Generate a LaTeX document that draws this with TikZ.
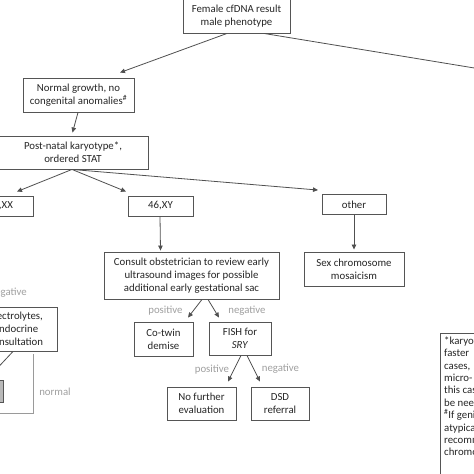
\documentclass[tikz,border=0pt]{standalone}
\usepackage{fontspec}
\setmainfont{Carlito}
\usetikzlibrary{arrows.meta,calc}
\definecolor{boxc}{HTML}{555555}
\definecolor{linec}{HTML}{505050}
\definecolor{txtc}{HTML}{262626}
\definecolor{labc}{HTML}{A0A0A0}
\definecolor{grayl}{HTML}{9A9A9A}
\tikzset{
  bx/.style={draw=boxc, line width=0.9pt, fill=white, text=txtc, align=center, inner sep=0pt,
     font=\fontsize{10.8}{13}\selectfont},
  conn/.style={draw=linec, line width=0.8pt, -{Triangle[width=4.5pt,length=5pt]}},
  plain/.style={draw=linec, line width=0.8pt},
  glin/.style={draw=grayl, line width=0.9pt},
  lab/.style={text=labc, inner sep=0pt, font=\fontsize{10.8}{13}\selectfont},
}
\begin{document}
\begin{tikzpicture}[x=1pt,y=-1pt]
\useasboundingbox (0,0) rectangle (474,474);
\clip (0,0) rectangle (474,474);
\fill[white] (0,0) rectangle (474,474);

% nodes
\node[bx, minimum width=107pt, minimum height=34pt] (top) at (236.5,16) {Female cfDNA result\\male phenotype};
\node[bx, minimum width=111pt, minimum height=34pt] (normal) at (78.5,95) {Normal growth, no\\congenital anomalies\textsuperscript{\#}};
\node[bx, minimum width=150pt, minimum height=33pt] (post) at (73,152.5) {Post-natal karyotype*,\\ordered STAT};
\node[bx, minimum width=65pt, minimum height=20pt] (xx) at (0.5,206) {46,XX};
\node[bx, minimum width=65pt, minimum height=20pt] (xy) at (160.5,206) {46,XY};
\node[bx, minimum width=64pt, minimum height=20pt] (other) at (354,204.5) {other};
\node[bx, minimum width=100pt, minimum height=34pt] (sex) at (354,269) {Sex chromosome\\mosaicism};
\node[bx, minimum width=175pt, minimum height=47pt] (consult) at (191.5,275.5) {Consult obstetrician to review early\\ultrasound images for possible\\additional early gestational sac};
\node[bx, minimum width=59pt, minimum height=34pt] (cotwin) at (163.5,339) {Co-twin\\demise};
\node[bx, minimum width=62pt, minimum height=33pt] (fish) at (240,338.5) {FISH for\\\textit{SRY}};
\node[bx, minimum width=69pt, minimum height=33pt] (nofurther) at (201.5,403.5) {No further\\evaluation};
\node[bx, minimum width=58pt, minimum height=33pt] (dsd) at (280,403.5) {DSD\\referral};
\node[bx, minimum width=82pt, minimum height=44pt] (elec) at (16,329) {Electrolytes,\\endocrine\\consultation};
\node[draw=boxc, fill=gray!55, line width=0.9pt, minimum width=23pt, minimum height=22pt, inner sep=0pt] (gbox) at (-8.5,391) {};
\node[draw=boxc, line width=0.9pt, fill=white, minimum width=90pt, minimum height=160pt, inner sep=0pt] (foot) at (485,413) {};
\node[anchor=north west, inner sep=0pt, text=txtc, align=left, font=\fontsize{10.8}{12.4}\selectfont] (foottext) at (444,336.5)
 {*karyotype\\faster\\cases,\\micro-\\this case\\be needed\\\textsuperscript{\#}If genitalia\\atypical\\recommend\\chromosome};

% free ends
\coordinate (offr) at (520,75.5);
\coordinate (offel) at (-10,376);
\coordinate (offn) at (-5,413);

% connectors
\draw[conn] ([xshift=-9.5pt]top.south) -- ([xshift=41.5pt,yshift=5pt]normal.north);
\draw[plain] ([xshift=27.5pt]top.south) -- (offr);
\draw[conn] ([xshift=-0.5pt]normal.south) -- ([xshift=-0.5pt,yshift=3pt]post.north);
\draw[conn] ([xshift=-1pt]post.south) -- ([xshift=16.5pt,yshift=4pt]xx.north);
\draw[conn] ([xshift=-1pt]post.south) -- ([xshift=-34.5pt,yshift=4pt]xy.north);
\draw[conn] ([xshift=-1pt]post.south) -- ([xshift=-36pt,yshift=4pt]other.north);
\draw[conn] ([xshift=-0.5pt]xy.south) -- ([yshift=1pt]xy.south |- consult.north);
\draw[conn] (other.south) -- ([yshift=2pt]other.south |- sex.north);
\draw[conn] ([xshift=10.5pt]consult.south) -- ([xshift=24.5pt,yshift=4pt]cotwin.north);
\draw[conn] ([xshift=16.5pt]consult.south) -- ([xshift=-21pt,yshift=4pt]fish.north);
\draw[conn] ([xshift=1pt]fish.south) -- ([xshift=26.5pt,yshift=5pt]nofurther.north);
\draw[conn] ([xshift=7pt]fish.south) -- ([xshift=-20pt,yshift=5pt]dsd.north);
\draw[plain] ([xshift=-3pt]elec.south) -- (offel);
\draw[glin] ([xshift=17pt,yshift=-3pt]elec.south) |- (offn);

% labels
\node[lab] (l1) at (165.5,311) {positive};
\node[lab] (l2) at (247,311) {negative};
\node[lab] (l3) at (212,370) {positive};
\node[lab] (l4) at (280.5,369) {negative};
\node[lab] (l5) at (55,392) {normal};
\node[lab, anchor=east] (l6) at (27,293) {negative};
\end{tikzpicture}
\end{document}
